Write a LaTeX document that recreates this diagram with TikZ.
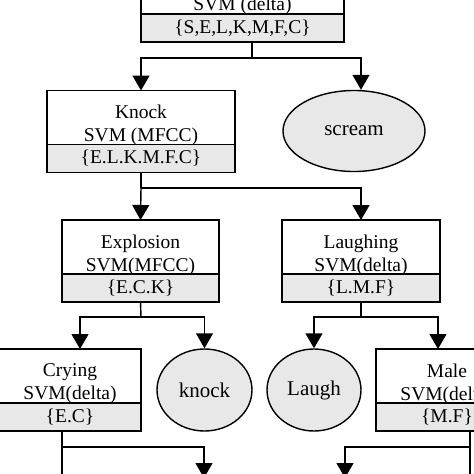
\documentclass[tikz,border=0pt]{standalone}
\usepackage{fontspec}
\setmainfont{Liberation Serif}
\usetikzlibrary{positioning,shapes.geometric,arrows.meta}
\definecolor{setgray}{gray}{0.91}
\tikzset{
  clsbox/.style={draw, line width=1.4pt, inner sep=0pt, outer sep=0pt, minimum height=54pt},
  clstext/.style={inner sep=0pt, align=center, font=\fontsize{19.5}{23}\selectfont},
  setbox/.style={draw, line width=1.4pt, fill=setgray, inner sep=0pt, outer sep=0pt, minimum height=28pt, font=\fontsize{19.5}{23}\selectfont},
  leaf/.style={ellipse, draw, line width=1.4pt, fill=setgray, inner sep=0pt, font=\fontsize{21}{25}\selectfont},
  flow/.style={line width=1.4pt},
  arr/.style={flow, -{Triangle[length=15pt,width=17pt]}}
}
\begin{document}
\begin{tikzpicture}[x=1pt, y=-1pt]
      \useasboundingbox (0,0) rectangle (474,474);
      \clip (0,0) rectangle (474,474);

      \node[clsbox, minimum width=203pt] (root) at (242.5,-13) {};
      \node[clstext] (roottext) at (242.5,6) {SVM (delta)};
      \node[setbox, minimum width=203pt, below=0pt of root] (rootset) {\{S,E,L,K,M,F,C\}};

      \node[clsbox, minimum width=188pt] (knock) at (141,117.5) {};
      \node[clstext] (knocktext) at ([yshift=-8pt]knock.center) {Knock\\SVM (MFCC)};
      \node[setbox, minimum width=188pt, below=0pt of knock] (knockset) {\{E.L.K.M.F.C\}};
      \node[leaf, minimum width=142pt, minimum height=81pt] (scream) at (354,131) {scream};

      \node[clsbox, minimum width=157pt] (expl) at (140.5,247) {};
      \node[clstext] (expltext) at ([yshift=-8pt]expl.center) {Explosion\\SVM(MFCC)};
      \node[setbox, minimum width=157pt, below=0pt of expl] (explset) {\{E.C.K\}};
      \node[clsbox, minimum width=158pt] (laughing) at (361,247) {};
      \node[clstext] (laughingtext) at ([yshift=-8pt]laughing.center) {Laughing\\SVM(delta)};
      \node[setbox, minimum width=158pt, below=0pt of laughing] (laughingset) {\{L.M.F\}};

      \node[clsbox, minimum width=142pt] (crying) at (70,376) {};
      \node[clstext] (cryingtext) at ([yshift=-8pt]crying.center) {Crying\\SVM(delta)};
      \node[setbox, minimum width=142pt, below=0pt of crying] (cryingset) {\{E.C\}};
      \node[leaf, minimum width=95pt, minimum height=82pt] (knockleaf) at (204.5,390) {knock};
      \node[leaf, minimum width=94pt, minimum height=82pt] (laughleaf) at (314,390) {Laugh};
      \node[clsbox, minimum width=142pt] (male) at (447,376) {};
      \node[clstext] (maletext) at ([yshift=-8pt]male.center) {Male\\SVM(delta)};
      \node[setbox, minimum width=142pt, below=0pt of male] (maleset) {\{M.F\}};

      \coordinate (j0) at (252,58);
      \coordinate (j1) at (141,188);
      \coordinate (j2) at (141,317);
      \coordinate (j3) at (361,317);
      \coordinate (j4) at (62,447);
      \coordinate (j5) at (470,447);
      \coordinate (cryingout) at (62,490);
      \coordinate (maleout) at (470,490);
      \coordinate (downleft) at (204,478);
      \coordinate (downright) at (345,478);

      \draw[flow] (rootset.south -| j0) -- (j0);
      \draw[arr] (j0) -| (knock.north);
      \draw[arr] (j0) -| ([xshift=7pt]scream.north);

      \draw[flow] (knockset.south) -- (j1);
      \draw[arr] (j1) -- (expl.north);
      \draw[arr] (j1) -| (laughing.north);

      \draw[flow] (explset.south) -- (j2);
      \draw[arr] (j2) -| ([xshift=10pt]crying.north);
      \draw[arr] (j2) -| (knockleaf.north);
      \draw[flow] (laughingset.south) -- (j3);
      \draw[arr] (j3) -| (laughleaf.north);
      \draw[arr] (j3) -| ([xshift=-9pt]male.north);

      \draw[flow] (cryingset.south -| j4) -- (cryingout);
      \draw[arr] (j4) -| (downleft);
      \draw[flow] (maleset.south -| j5) -- (maleout);
      \draw[arr] (j5) -| (downright);
\end{tikzpicture}
\end{document}
